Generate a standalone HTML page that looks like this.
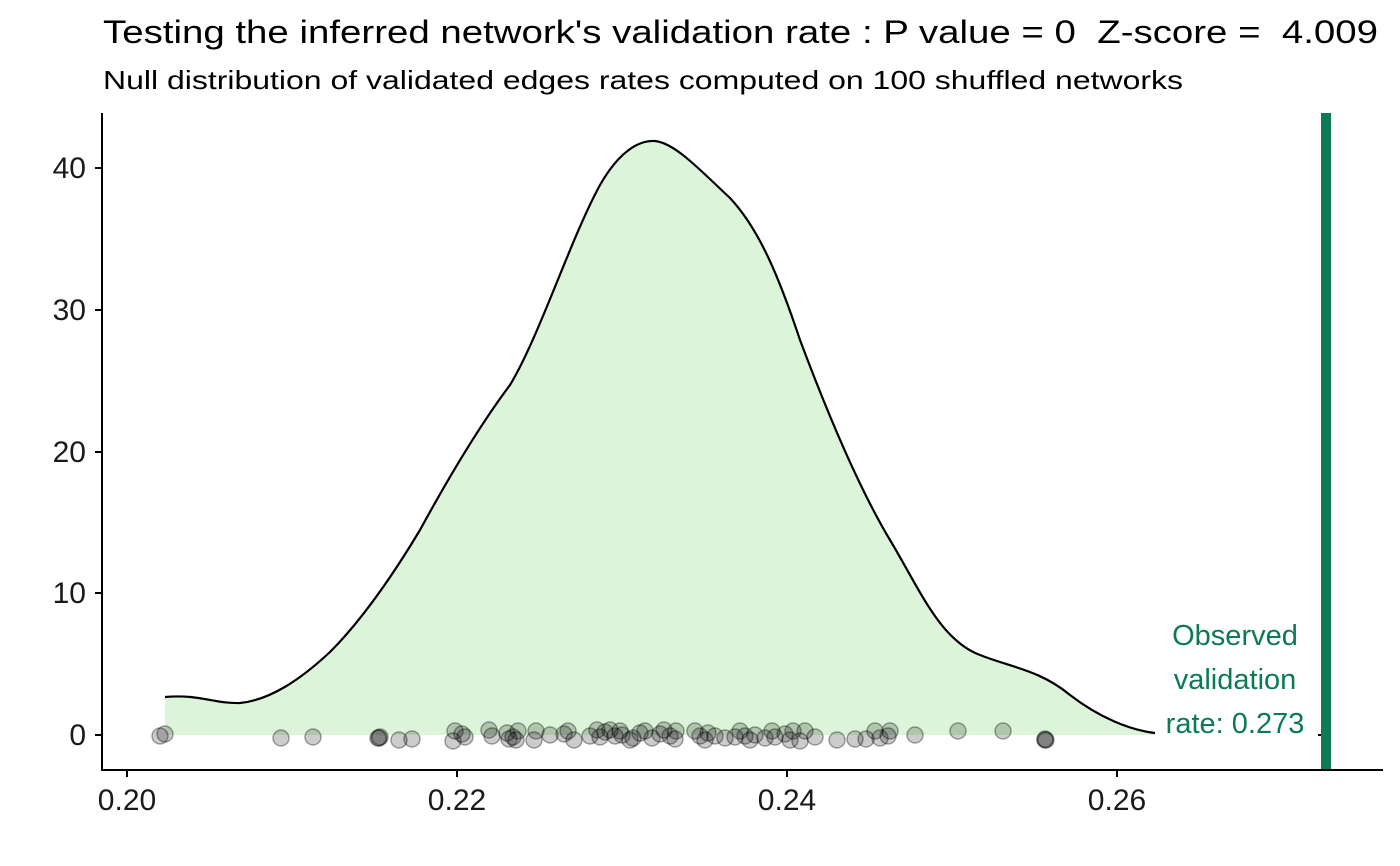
<!DOCTYPE html>
<html><head><style>body{margin:0;background:#fff}svg{display:block}</style></head><body>
<svg width="1400" height="866" xmlns="http://www.w3.org/2000/svg" font-family="Liberation Sans, Arial, sans-serif">
<text x="103" y="43" font-size="32" fill="#000" textLength="1275" lengthAdjust="spacingAndGlyphs" xml:space="preserve">Testing the inferred network's validation rate : P value = 0  Z-score =  4.009</text>
<text x="103" y="89" font-size="26" fill="#000" textLength="1080" lengthAdjust="spacingAndGlyphs">Null distribution of validated edges rates computed on 100 shuffled networks</text>
<path d="M165,697 C200,694 215,704 240,703 C270,700 300,680 330,652 C360,622 390,580 420,530 C450,475 480,425 510,385 C540,335 570,240 600,185 C620,150 640,140 655,141 C675,143 700,170 730,198 C760,230 780,280 800,340 C830,420 860,490 890,540 C920,590 940,640 980,655 C1010,667 1040,670 1070,695 C1100,718 1130,730 1155,733 L1155,735 L165,735 Z" fill="#dcf5da" stroke="none"/>
<path d="M165,697 C200,694 215,704 240,703 C270,700 300,680 330,652 C360,622 390,580 420,530 C450,475 480,425 510,385 C540,335 570,240 600,185 C620,150 640,140 655,141 C675,143 700,170 730,198 C760,230 780,280 800,340 C830,420 860,490 890,540 C920,590 940,640 980,655 C1010,667 1040,670 1070,695 C1100,718 1130,730 1155,733" fill="none" stroke="#000" stroke-width="2.2"/>
<line x1="1318" y1="735" x2="1322" y2="735" stroke="#000" stroke-width="2"/>
<g fill="rgba(0,0,0,0.2)" stroke="rgba(0,0,0,0.35)" stroke-width="1.5">
<circle cx="160" cy="736" r="8"/><circle cx="165" cy="734" r="8"/><circle cx="281" cy="738" r="8"/><circle cx="313" cy="737" r="8"/>
<circle cx="378" cy="738" r="8"/><circle cx="379" cy="738" r="8"/><circle cx="380" cy="737" r="8"/><circle cx="399" cy="740" r="8"/><circle cx="412" cy="739" r="8"/>
<circle cx="453" cy="741" r="8"/><circle cx="455" cy="731" r="8"/><circle cx="462" cy="734" r="8"/><circle cx="465" cy="737" r="8"/>
<circle cx="489" cy="730" r="8"/><circle cx="492" cy="736" r="8"/><circle cx="507" cy="733" r="8"/><circle cx="509" cy="739" r="8"/><circle cx="513" cy="737" r="8"/><circle cx="518" cy="731" r="8"/><circle cx="516" cy="740" r="8"/><circle cx="534" cy="740" r="8"/><circle cx="536" cy="731" r="8"/>
<circle cx="550" cy="735" r="8"/><circle cx="564" cy="734" r="8"/><circle cx="568" cy="731" r="8"/><circle cx="574" cy="740" r="8"/><circle cx="590" cy="736" r="8"/><circle cx="597" cy="730" r="8"/><circle cx="600" cy="737" r="8"/><circle cx="605" cy="732" r="8"/><circle cx="610" cy="730" r="8"/><circle cx="615" cy="736" r="8"/><circle cx="620" cy="731" r="8"/><circle cx="622" cy="735" r="8"/><circle cx="630" cy="740" r="8"/><circle cx="633" cy="738" r="8"/><circle cx="640" cy="733" r="8"/><circle cx="645" cy="731" r="8"/><circle cx="652" cy="738" r="8"/><circle cx="660" cy="734" r="8"/><circle cx="664" cy="730" r="8"/><circle cx="670" cy="736" r="8"/><circle cx="675" cy="739" r="8"/><circle cx="676" cy="731" r="8"/>
<circle cx="695" cy="731" r="8"/><circle cx="700" cy="736" r="8"/><circle cx="705" cy="740" r="8"/><circle cx="708" cy="733" r="8"/><circle cx="715" cy="736" r="8"/><circle cx="725" cy="738" r="8"/><circle cx="735" cy="737" r="8"/><circle cx="740" cy="731" r="8"/><circle cx="745" cy="736" r="8"/><circle cx="750" cy="740" r="8"/><circle cx="755" cy="735" r="8"/><circle cx="765" cy="738" r="8"/><circle cx="772" cy="731" r="8"/><circle cx="775" cy="737" r="8"/><circle cx="785" cy="734" r="8"/><circle cx="790" cy="740" r="8"/><circle cx="793" cy="731" r="8"/><circle cx="800" cy="741" r="8"/><circle cx="805" cy="731" r="8"/><circle cx="815" cy="737" r="8"/>
<circle cx="837" cy="740" r="8"/><circle cx="855" cy="739" r="8"/><circle cx="866" cy="739" r="8"/><circle cx="875" cy="731" r="8"/><circle cx="880" cy="738" r="8"/><circle cx="888" cy="736" r="8"/><circle cx="890" cy="731" r="8"/>
<circle cx="915" cy="735" r="8"/><circle cx="958" cy="731" r="8"/><circle cx="1003" cy="731" r="8"/>
<circle cx="1045" cy="740" r="8"/><circle cx="1046" cy="740" r="8"/><circle cx="1045" cy="739" r="8"/>
</g>
<rect x="1321" y="113" width="10" height="657" fill="#0b7a55"/>
<g fill="#0b7a55" font-size="29" text-anchor="middle">
<text x="1235" y="645">Observed</text><text x="1235" y="689">validation</text><text x="1235" y="733">rate: 0.273</text>
</g>
<g stroke="#000" stroke-width="2">
<line x1="102" y1="113" x2="102" y2="771"/><line x1="101" y1="770" x2="1383" y2="770"/>
<line x1="95" y1="735" x2="102" y2="735"/><line x1="95" y1="593" x2="102" y2="593"/><line x1="95" y1="452" x2="102" y2="452"/><line x1="95" y1="310" x2="102" y2="310"/><line x1="95" y1="168" x2="102" y2="168"/>
<line x1="127" y1="770" x2="127" y2="777"/><line x1="457" y1="770" x2="457" y2="777"/><line x1="787" y1="770" x2="787" y2="777"/><line x1="1117" y1="770" x2="1117" y2="777"/>
</g>
<g font-size="30" fill="#1a1a1a" text-anchor="end">
<text x="86" y="745">0</text><text x="86" y="603">10</text><text x="86" y="462">20</text><text x="86" y="320">30</text><text x="86" y="178">40</text>
</g>
<g font-size="30" fill="#1a1a1a" text-anchor="middle">
<text x="127" y="810">0.20</text><text x="457" y="810">0.22</text><text x="787" y="810">0.24</text><text x="1117" y="810">0.26</text>
</g>
</svg>
</body></html>
